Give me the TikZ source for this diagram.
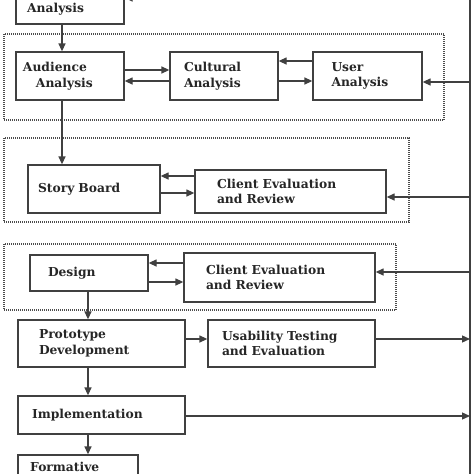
\documentclass[tikz,border=0pt]{standalone}
\usepackage{fontspec}
\setmainfont{DejaVu Serif}
\usetikzlibrary{arrows.meta}

\begin{document}
\begin{tikzpicture}[x=1pt,y=-1pt,
    box/.style={draw=black!75, line width=1.3pt, inner xsep=0pt, inner ysep=2pt,
        align=left, font=\fontsize{12.3}{15.5}\selectfont\bfseries, text=black!85},
    lbl/.style={inner sep=0pt, anchor=west, font=\fontsize{12.3}{15.5}\selectfont\bfseries, text=black!85},
    frame/.style={draw=black!70, line width=1.1pt, dash pattern=on 1pt off 1pt},
    arr/.style={draw=black!75, line width=1.3pt, -{Triangle[length=8pt,width=7pt]}},
    bus/.style={draw=black!75, line width=1.3pt}]
    \clip (0,0) rectangle (474,474);
    \fill[white] (0,0) rectangle (474,474);
    % dotted groups
    \draw[frame] (4,34) rectangle (444,120);
    \draw[frame] (4,138) rectangle (409,222);
    \draw[frame] (4,244) rectangle (396,310);
    % boxes
    \node[box, minimum width=108pt, minimum height=54pt] (ctx) at (70,-3) {};
    \node[lbl] (ctxlbl) at (27,9) {Analysis};
    \node[box, minimum width=108pt, minimum height=48pt, text width=94pt] (aud) at (70,76) {Audience\\\hspace{13pt}Analysis};
    \node[box, minimum width=108pt, minimum height=48pt, text width=80pt] (cult) at (224,76) {Cultural\\Analysis};
    \node[box, minimum width=109pt, minimum height=48pt, text width=72pt] (user) at (367.5,76) {User\\Analysis};
    \node[box, minimum width=132pt, minimum height=48pt, text width=112pt] (story) at (94,189) {Story Board};
    \node[box, minimum width=191pt, minimum height=43pt, text width=147pt] (evalA) at (290.5,191.5) {Client Evaluation\\and Review};
    \node[box, minimum width=118pt, minimum height=36pt, text width=82pt] (design) at (89,273) {Design};
    \node[box, minimum width=191pt, minimum height=49pt, text width=147pt] (evalB) at (279.5,277.5) {Client Evaluation\\and Review};
    \node[box, minimum width=167pt, minimum height=47pt, text width=125pt] (proto) at (101.5,343.5) {Prototype\\Development};
    \node[box, minimum width=167pt, minimum height=47pt, text width=139pt] (usab) at (291.5,343.5) {Usability Testing\\and Evaluation};
    \node[box, minimum width=167pt, minimum height=38pt, text width=139pt] (impl) at (101.5,415) {Implementation};
    \node[box, minimum width=120pt, minimum height=44pt] (form) at (78,477) {};
    \node[lbl] (formlbl) at (30,467) {Formative};
    % feedback line on the right
    \coordinate (bustop) at (470,-10);
    \coordinate (busbot) at (470,484);
    \draw[bus] (bustop) -- (busbot);
    % main flow
    \draw[arr] (ctx.south -| 62,0) -- (aud.north -| 62,0);
    \draw[arr] (aud.south -| 62,0) -- (story.north -| 62,0);
    \draw[arr] (design.south -| 88,0) -- (proto.north -| 88,0);
    \draw[arr] (proto.south -| 88,0) -- (impl.north -| 88,0);
    \draw[arr] (impl.south -| 88,0) -- (form.north -| 88,0);
    % pairs
    \draw[arr] (aud.east |- 0,70) -- (cult.west |- 0,70);
    \draw[arr] (cult.west |- 0,81) -- (aud.east |- 0,81);
    \draw[arr] (user.west |- 0,61) -- (cult.east |- 0,61);
    \draw[arr] (cult.east |- 0,81) -- (user.west |- 0,81);
    \draw[arr] (evalA.west |- 0,176) -- (story.east |- 0,176);
    \draw[arr] (story.east |- 0,193) -- (evalA.west |- 0,193);
    \draw[arr] (evalB.west |- 0,263) -- (design.east |- 0,263);
    \draw[arr] (design.east |- 0,282) -- (evalB.west |- 0,282);
    \draw[arr] (proto.east |- 0,339) -- (usab.west |- 0,339);
    % to and from the right line
    \draw[arr] (bustop |- 0,-2) -- (ctx.east |- 0,-2);
    \draw[arr] (bustop |- 0,82) -- (user.east |- 0,82);
    \draw[arr] (bustop |- 0,197) -- (evalA.east |- 0,197);
    \draw[arr] (bustop |- 0,272) -- (evalB.east |- 0,272);
    \draw[arr] (usab.east |- 0,339) -- (bustop |- 0,339);
    \draw[arr] (impl.east |- 0,416) -- (bustop |- 0,416);
\end{tikzpicture}
\end{document}
